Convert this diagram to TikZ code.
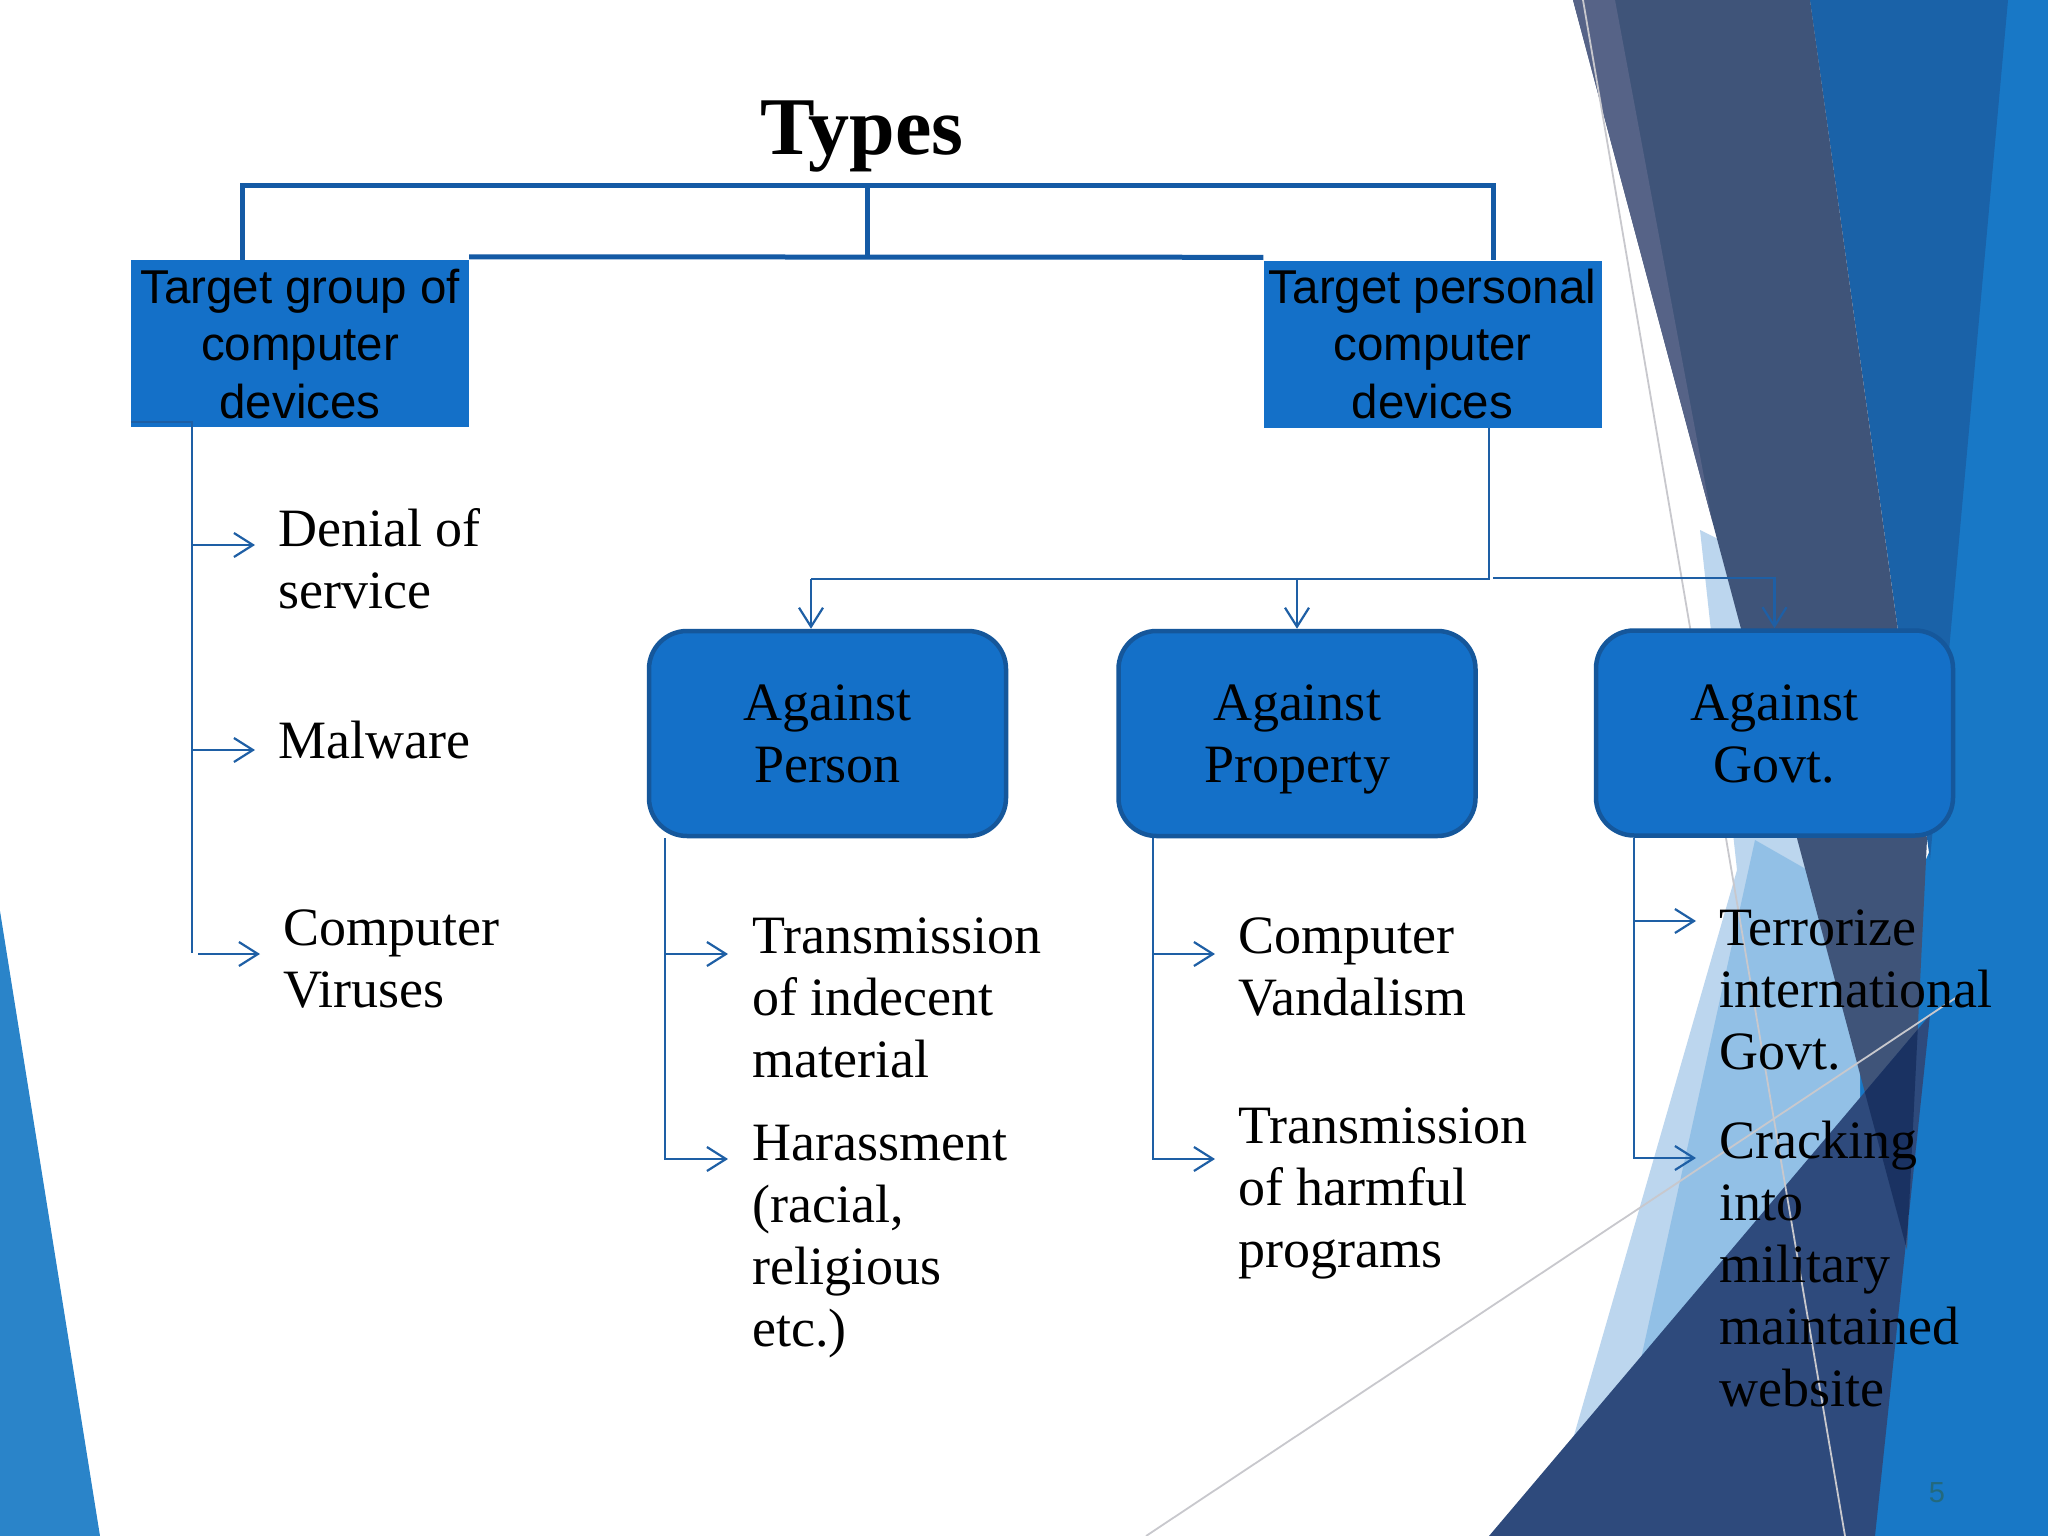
\documentclass[tikz,border=0pt]{standalone}
\usepackage{fontspec}
\setmainfont{Liberation Serif}
\setsansfont{Liberation Sans}
\usetikzlibrary{arrows.meta,calc}
\definecolor{boxfill}{RGB}{20,112,200}
\definecolor{boxline}{RGB}{21,87,155}
\definecolor{conncol}{RGB}{30,95,165}
\definecolor{brcol}{RGB}{20,90,165}
\definecolor{pgnum}{RGB}{35,105,125}
\definecolor{bgbright}{RGB}{24,120,198}
\definecolor{bgmed}{RGB}{26,98,168}
\definecolor{bgpale}{RGB}{188,214,238}
\definecolor{bglight}{RGB}{146,192,230}
\definecolor{bgslate}{RGB}{63,84,121}
\definecolor{bgslatel}{RGB}{86,99,135}
\definecolor{bgnavy}{RGB}{46,74,124}
\definecolor{bgdeep}{RGB}{26,50,98}
\definecolor{bgleft}{RGB}{42,132,201}
\definecolor{bggray}{RGB}{200,200,205}
\begin{document}
\begin{tikzpicture}[x=1pt,y=-1pt,
  sqbox/.style={draw=none,fill=boxfill,minimum width=338pt,minimum height=167pt,inner sep=0pt},
  rbox/.style={draw=boxline,line width=4.5pt,fill=boxfill,rounded corners=38pt,minimum width=357pt,minimum height=205pt,inner sep=0pt},
  boxtext/.style={font=\fontsize{54}{62}\selectfont,align=center,anchor=north,inner sep=0pt},
  toptext/.style={font=\sffamily\fontsize{47.5}{57.5}\selectfont,align=center,anchor=north,inner sep=0pt},
  itemtext/.style={font=\fontsize{54}{62}\selectfont,align=left,anchor=north west,inner sep=0pt},
  conn/.style={draw=conncol,line width=2.2pt},
  arr/.style={draw=conncol,line width=2.2pt,-{Straight Barb[length=19pt,width=24pt]}},
  bracket/.style={draw=brcol,line width=5pt}]
\useasboundingbox (0,0) rectangle (2048,1536);
\fill[white] (0,0) rectangle (2048,1536);
% background decoration
\fill[bgleft] (0,911) -- (100,1536) -- (0,1536) -- cycle;
\fill[bgbright] (1810,0) -- (2048,0) -- (2048,1536) -- (1640,1536) -- (1930,850) -- cycle;
\fill[bgmed] (1810,0) -- (2008,0) -- (1930,860) -- cycle;
\fill[bgpale] (1700,530) -- (1760,560) -- (1850,1000) -- (1700,1536) -- (1545,1536) -- (1737,870) -- cycle;
\fill[bglight] (1755,840) -- (1860,900) -- (1860,1536) -- (1602,1536) -- cycle;
\fill[bgslate] (1573,0) -- (1810,0) -- (1927,839) -- (1907,1250) -- cycle;
\fill[bgslatel] (1573,0) -- (1615,0) -- (1712,520) -- cycle;
\fill[bgnavy] (1489,1536) -- (1930,1015) -- (1875,1536) -- cycle;
\begin{scope}
  \clip (1573,0) -- (1810,0) -- (1927,839) -- (1907,1250) -- cycle;
  \fill[bgdeep] (1489,1536) -- (1930,1015) -- (1875,1536) -- cycle;
\end{scope}
\draw[bggray,line width=1.8pt] (1583,0) -- (1845,1536);
\draw[bggray,line width=1.8pt] (1146,1536) -- (1960,995);
% title
\node[font=\bfseries\fontsize{82}{98}\selectfont,anchor=base,inner sep=0pt] (title) at (862,154) {Types};
% top boxes
\node[sqbox] (tg) at (300,343.5) {};
\node[sqbox] (tp) at (1432.5,344) {};
\node[toptext] (tgt) at (300,262.75) {\strut Target group of\\computer\\devices};
\node[toptext] (tpt) at (1432.5,262.75) {\strut Target personal\\computer\\devices};
% bracket
\coordinate (barL) at (242,185);
\coordinate (barM) at (867,185);
\coordinate (barR) at (1493,185);
\coordinate (barB) at (867,257);
\draw[bracket] (barL |- tg.north) -- (barL) -- (barR) -- (barR |- tp.north);
\draw[bracket] (barM) -- (barB);
\draw[bracket] ([yshift=3pt]tg.north east) -- ([yshift=3pt]tp.north west);
% left column
\coordinate (lv) at (192,953);
\coordinate (t1) at (255,545);
\coordinate (t2) at (255,750);
\coordinate (s3) at (198,954);
\coordinate (t3) at (260,954);
\draw[conn] ([yshift=5pt]tg.south west) -| (lv);
\draw[arr] (lv |- t1) -- (t1);
\draw[arr] (lv |- t2) -- (t2);
\draw[arr] (s3) -- (t3);
\node[itemtext] (dos) at (278,502.6) {\strut Denial of\\service};
\node[itemtext] (mal) at (278,714.6) {\strut Malware};
\node[itemtext] (vir) at (283,901.6) {\strut Computer\\Viruses};
% rounded boxes
\node[rbox] (ap) at (827.5,733.5) {};
\node[rbox] (apr) at (1297,733.5) {};
\node[rbox] (ag) at (1774.5,733) {};
\node[boxtext] (apt) at (827.5,676.6) {\strut Against\\Person};
\node[boxtext] (aprt) at (1297,676.6) {\strut Against\\Property};
\node[boxtext] (agt) at (1774.5,676.6) {\strut Against\\Govt.};
% connectors from right top box
\coordinate (hj) at (1489,579);
\coordinate (pa) at (811,579);
\coordinate (gj) at (1493,578);
\draw[conn] (tp.south -| hj) -- (hj) -- (pa);
\draw[arr] (pa) -- (pa |- ap.north);
\draw[arr] (hj -| apr.north) -- (apr.north);
\draw[arr] (gj) -| (ag.north);
% person items
\coordinate (pv) at (665,1159);
\coordinate (pt1) at (728,954);
\coordinate (pt2) at (728,1159);
\draw[arr] (ap.south -| pv) -- (pv) -- (pt2);
\draw[arr] (pv |- pt1) -- (pt1);
\node[itemtext] (pi1) at (752,909.6) {\strut Transmission\\of indecent\\material};
\node[itemtext] (pi2) at (752,1116.6) {\strut Harassment\\(racial,\\religious\\etc.)};
% property items
\coordinate (qv) at (1153,1159);
\coordinate (qt1) at (1215,954);
\coordinate (qt2) at (1215,1159);
\draw[arr] (apr.south -| qv) -- (qv) -- (qt2);
\draw[arr] (qv |- qt1) -- (qt1);
\node[itemtext] (qi1) at (1238,909.6) {\strut Computer\\Vandalism};
\node[itemtext] (qi2) at (1238,1099.6) {\strut Transmission\\of harmful\\programs};
% govt items
\coordinate (gv) at (1634,1158);
\coordinate (gt1) at (1696,921);
\coordinate (gt2) at (1696,1158);
\draw[arr] (ag.south -| gv) -- (gv) -- (gt2);
\draw[arr] (gv |- gt1) -- (gt1);
\node[itemtext] (gi1) at (1719,901.6) {\strut Terrorize\\international\\Govt.};
\node[itemtext] (gi2) at (1719,1114.6) {\strut Cracking\\into\\military\\maintained\\website};
% page number
\node[font=\sffamily\fontsize{29}{34}\selectfont,text=pgnum,anchor=base,inner sep=0pt] (pg) at (1937,1502) {5};
\end{tikzpicture}
\end{document}
